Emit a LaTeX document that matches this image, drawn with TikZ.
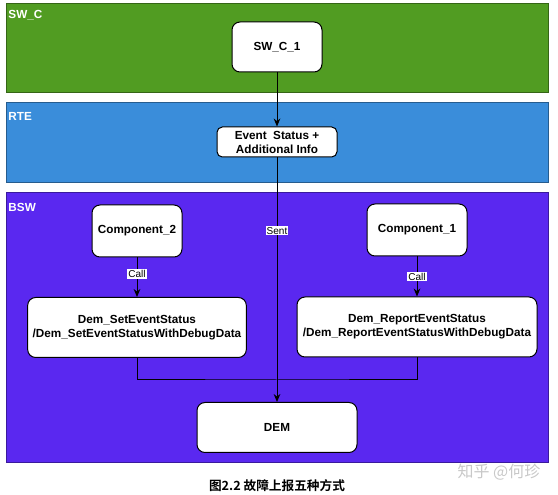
\documentclass[tikz,border=0pt]{standalone}
\usepackage{fontspec}
\setmainfont{Liberation Sans}
\newfontfamily\cjk{Noto Sans CJK SC}[BoldFont={Noto Sans CJK SC Bold}]
\usetikzlibrary{arrows.meta}
\definecolor{swcgreen}{HTML}{519C22}
\definecolor{rteblue}{HTML}{3A8DDA}
\definecolor{bswpurple}{HTML}{5A28F0}
\definecolor{wmgray}{HTML}{C8C8C8}

\begin{document}
\begin{tikzpicture}[
  x=0.75pt, y=-0.75pt,
  >={Stealth[length=6pt, width=5pt]},
  line width=0.75pt,
  layer/.style={draw=#1!65!black, fill=#1, line width=0.6pt},
  layername/.style={white, anchor=west, inner sep=0pt, font=\fontsize{8.8}{10}\selectfont\bfseries},
  block/.style={draw=black, fill=white, rounded corners=6pt, align=center,
    inner sep=0pt, font=\fontsize{8.8}{10.5}\selectfont\bfseries},
  tag/.style={fill=white, inner sep=0.8pt, font=\fontsize{7.5}{8}\selectfont}
]

% Page size
\useasboundingbox (0,0) rectangle (558,495);

% ── Layers ──
\draw[layer=swcgreen]  (6,3)   rectangle (548,92);
\draw[layer=rteblue]   (6,102) rectangle (548,182);
\draw[layer=bswpurple] (6,192) rectangle (548,462);
\node[layername] (swcname) at (8,15)  {SW\_C};
\node[layername] (rtename) at (8,116) {RTE};
\node[layername] (bswname) at (8,207) {BSW};

% ── Blocks ──
\node[block, minimum width=67.5pt, minimum height=37.5pt] (swc1) at (277,47) {SW\_C\_1};
\node[block, minimum width=90pt, minimum height=22.5pt, rounded corners=4pt] (evt) at (277,142)
  {Event~ Status +\\Additional Info};
\node[block, minimum width=67.5pt, minimum height=39pt] (comp2) at (137,231) {Component\_2};
\node[block, minimum width=75pt, minimum height=39pt] (comp1) at (417,230) {Component\_1};
\node[block, minimum width=164pt, minimum height=45pt] (setst) at (137,327.5)
  {Dem\_SetEventStatus\\/Dem\_SetEventStatusWithDebugData};
\node[block, minimum width=180pt, minimum height=45pt] (repst) at (417,327)
  {Dem\_ReportEventStatus\\/Dem\_ReportEventStatusWithDebugData};
\node[block, minimum width=120pt, minimum height=37.5pt] (dem) at (277,427.5) {DEM};

% ── Connectors ──
\coordinate (merge) at (277,380);
\draw[->] (swc1) -- (evt);
\draw[->] (evt) -- node[tag, pos=0.3] (sent) {Sent} (dem);
\draw[->] (comp2) -- node[tag, pos=0.42] (call2) {Call} (setst);
\draw[->] (comp1) -- node[tag, pos=0.5] (call1) {Call} (repst);
\draw (setst) |- (merge) -| (repst);

% ── Caption ──
\node[font=\fontsize{9.5}{11}\selectfont] (caption) at (277,486) {\cjk\bfseries 图2.2 故障上报五种方式};
\node[wmgray, font=\fontsize{12}{14}\selectfont] (mark) at (499,472) {\cjk 知乎 @何珍};

\end{tikzpicture}
\end{document}
